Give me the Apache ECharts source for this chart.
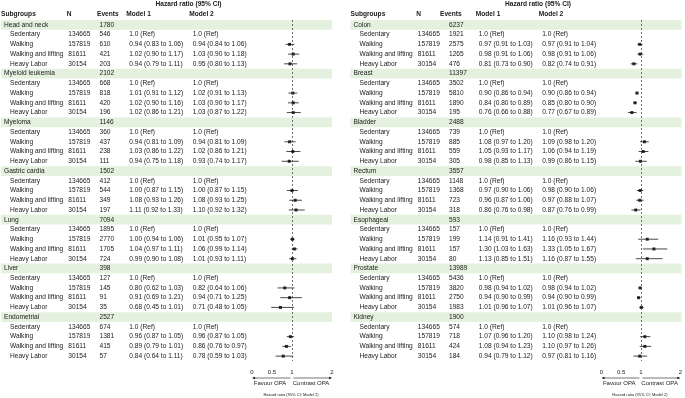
<!DOCTYPE html>
<html>
<head>
<meta charset="utf-8">
<script src="https://cdn.jsdelivr.net/npm/echarts@6/dist/echarts.min.js"></script>
<style>
  html, body { margin: 0; padding: 0; background: #fff; }
  #chart { width: 685px; height: 398px; }
</style>
</head>
<body>
<div id="chart"></div>
<script>
  // activity levels, shared by every cancer site
  const levels = ['Sedentary', 'Walking', 'Walking and lifting', 'Heavy Labor'];
  const levelN = [134665, 157819, 81611, 30154];

  // left panel
  const leftCancers = ['Head and neck', 'Myeloid leukemia', 'Myeloma', 'Gastric cardia', 'Lung', 'Liver', 'Endometrial'];
  const leftTotals = [1780, 2102, 1146, 1502, 7094, 398, 2527];
  const leftEvents = [
    [546, 610, 421, 203],
    [668, 818, 420, 196],
    [360, 437, 238, 111],
    [412, 544, 349, 197],
    [1895, 2770, 1705, 724],
    [127, 145, 91, 35],
    [674, 1381, 415, 57],
  ];
  // [hr, lower, upper] for Walking, Walking and lifting, Heavy Labor
  const leftModel1 = [
    [[0.94, 0.83, 1.06], [1.02, 0.90, 1.17], [0.94, 0.79, 1.11]],
    [[1.01, 0.91, 1.12], [1.02, 0.90, 1.16], [1.02, 0.86, 1.21]],
    [[0.94, 0.81, 1.09], [1.03, 0.86, 1.22], [0.94, 0.75, 1.18]],
    [[1.00, 0.87, 1.15], [1.08, 0.93, 1.26], [1.11, 0.92, 1.33]],
    [[1.00, 0.94, 1.06], [1.04, 0.97, 1.11], [0.99, 0.90, 1.08]],
    [[0.80, 0.62, 1.03], [0.91, 0.69, 1.21], [0.68, 0.45, 1.01]],
    [[0.96, 0.87, 1.05], [0.89, 0.79, 1.01], [0.84, 0.64, 1.11]],
  ];
  const leftModel2 = [
    [[0.94, 0.84, 1.06], [1.03, 0.90, 1.18], [0.95, 0.80, 1.13]],
    [[1.02, 0.91, 1.13], [1.03, 0.90, 1.17], [1.03, 0.87, 1.22]],
    [[0.94, 0.81, 1.09], [1.02, 0.86, 1.21], [0.93, 0.74, 1.17]],
    [[1.00, 0.87, 1.15], [1.08, 0.93, 1.25], [1.10, 0.92, 1.32]],
    [[1.01, 0.95, 1.07], [1.06, 0.99, 1.14], [1.01, 0.93, 1.11]],
    [[0.82, 0.64, 1.06], [0.94, 0.71, 1.25], [0.71, 0.48, 1.05]],
    [[0.96, 0.87, 1.05], [0.86, 0.76, 0.97], [0.78, 0.59, 1.03]],
  ];

  // right panel
  const rightCancers = ['Colon', 'Breast', 'Bladder', 'Rectum', 'Esophageal', 'Prostate', 'Kidney'];
  const rightTotals = [6237, 11397, 2488, 3557, 593, 13989, 1900];
  const rightEvents = [
    [1921, 2575, 1265, 476],
    [3502, 5810, 1890, 195],
    [739, 885, 559, 305],
    [1148, 1368, 723, 318],
    [157, 199, 157, 80],
    [5436, 3820, 2750, 1983],
    [574, 718, 424, 184],
  ];
  const rightModel1 = [
    [[0.97, 0.91, 1.03], [0.98, 0.91, 1.06], [0.81, 0.73, 0.90]],
    [[0.90, 0.86, 0.94], [0.84, 0.80, 0.89], [0.76, 0.66, 0.88]],
    [[1.08, 0.97, 1.20], [1.05, 0.93, 1.17], [0.98, 0.85, 1.13]],
    [[0.97, 0.90, 1.06], [0.96, 0.87, 1.06], [0.86, 0.76, 0.98]],
    [[1.14, 0.91, 1.41], [1.30, 1.03, 1.63], [1.13, 0.85, 1.51]],
    [[0.98, 0.94, 1.02], [0.94, 0.90, 0.99], [1.01, 0.96, 1.07]],
    [[1.07, 0.96, 1.20], [1.08, 0.94, 1.23], [0.94, 0.79, 1.12]],
  ];
  const rightModel2 = [
    [[0.97, 0.91, 1.04], [0.98, 0.91, 1.06], [0.82, 0.74, 0.91]],
    [[0.90, 0.86, 0.94], [0.85, 0.80, 0.90], [0.77, 0.67, 0.89]],
    [[1.09, 0.98, 1.20], [1.06, 0.94, 1.19], [0.99, 0.86, 1.15]],
    [[0.98, 0.90, 1.06], [0.97, 0.88, 1.07], [0.87, 0.76, 0.99]],
    [[1.16, 0.93, 1.44], [1.33, 1.05, 1.67], [1.16, 0.87, 1.55]],
    [[0.98, 0.94, 1.02], [0.94, 0.90, 0.99], [1.01, 0.96, 1.07]],
    [[1.10, 0.98, 1.24], [1.10, 0.97, 1.26], [0.97, 0.81, 1.16]],
  ];

  const axisTicks = [0, 0.5, 1, 2];

  const FONT = "'Liberation Sans', Arial, sans-serif";
  const INK = '#1a1a1a';
  const BAND = '#e4f1df';
  const FS = 6.6;

  function fmt(v) {
    return v ? v[0].toFixed(2) + ' (' + v[1].toFixed(2) + ' to ' + v[2].toFixed(2) + ')' : '1.0 (Ref)';
  }

  function buildRows(cancers, totals, events, m1, m2) {
    const rows = [];
    cancers.forEach((c, i) => {
      rows.push({ group: true, name: c, events: totals[i] });
      levels.forEach((lv, j) => {
        rows.push({
          group: false, name: lv, n: levelN[j], events: events[i][j],
          m1: j === 0 ? null : m1[i][j - 1],
          m2: j === 0 ? null : m2[i][j - 1],
        });
      });
    });
    return rows;
  }

  const panels = [
    { origin: 0, eventsHead: 97, rows: buildRows(leftCancers, leftTotals, leftEvents, leftModel1, leftModel2) },
    { origin: 349.5, eventsHead: 90.5, rows: buildRows(rightCancers, rightTotals, rightEvents, rightModel1, rightModel2) },
  ];

  function txt(x, y, s, extra) {
    return {
      type: 'text',
      style: Object.assign({ x: x, y: y, text: s, fill: INK, font: FS + 'px ' + FONT, verticalAlign: 'middle', align: 'left' }, extra || {}),
    };
  }

  const grid = [], xAxis = [], yAxis = [], series = [];

  panels.forEach((p, k) => {
    const rows = p.rows;
    const cats = rows.map((r, i) => String(i));
    const tIdx = k * 2, fIdx = k * 2 + 1;
    const o = p.origin;

    grid.push({ left: o, top: 20, width: 332, height: 341 });
    grid.push({ left: o + 252, top: 20, width: 80, height: 341 });

    xAxis.push({ gridIndex: tIdx, type: 'value', min: 0, max: 1, show: false });
    xAxis.push({
      gridIndex: fIdx, type: 'value', min: 0, max: 2, offset: 6,
      axisLine: { lineStyle: { color: INK, width: 0.8 } },
      axisTick: { inside: true, length: 3, customValues: axisTicks, lineStyle: { color: INK, width: 0.8 } },
      axisLabel: { customValues: axisTicks, fontSize: 6, fontFamily: FONT, color: INK, margin: 2 },
      splitLine: { show: false },
    });
    yAxis.push({ gridIndex: tIdx, type: 'category', data: cats, inverse: true, show: false });
    yAxis.push({ gridIndex: fIdx, type: 'category', data: cats, inverse: true, show: false });

    // table text and group bands
    series.push({
      type: 'custom', xAxisIndex: tIdx, yAxisIndex: tIdx, z: 1, silent: true,
      data: rows.map((r, i) => [0, i]),
      renderItem: (params, api) => {
        const i = api.value(1);
        const r = rows[i];
        const y = api.coord([0, i])[1];
        const h = api.size([0, 1])[1];
        const ch = [];
        if (r.group) {
          ch.push({ type: 'rect', shape: { x: o + 1, y: y - h / 2, width: 331, height: h }, style: { fill: BAND } });
          ch.push(txt(o + 4, y, r.name));
          ch.push(txt(o + 99.5, y, String(r.events)));
        } else {
          ch.push(txt(o + 10, y, r.name));
          ch.push(txt(o + 68.3, y, String(r.n)));
          ch.push(txt(o + 99.5, y, String(r.events)));
          ch.push(txt(o + 129.3, y, fmt(r.m1)));
          ch.push(txt(o + 192.7, y, fmt(r.m2)));
        }
        return { type: 'group', children: ch };
      },
    });

    // Model 2 estimates
    const pts = [];
    rows.forEach((r, i) => { if (r.m2) pts.push([r.m2[0], r.m2[1], r.m2[2], i]); });

    series.push({
      type: 'custom', xAxisIndex: fIdx, yAxisIndex: fIdx, z: 3, silent: true,
      data: pts,
      encode: { x: [0, 1, 2], y: 3 },
      renderItem: (params, api) => {
        const row = api.value(3);
        const a = api.coord([api.value(1), row]);
        const b = api.coord([api.value(2), row]);
        return { type: 'line', shape: { x1: a[0], y1: a[1], x2: b[0], y2: b[1] }, style: { stroke: INK, lineWidth: 0.8 } };
      },
    });
    series.push({
      type: 'scatter', xAxisIndex: fIdx, yAxisIndex: fIdx, z: 4, silent: true,
      symbol: 'rect', symbolSize: 3,
      itemStyle: { color: '#000' },
      data: pts.map(d => [d[0], d[3]]),
      markLine: {
        silent: true, symbol: 'none', label: { show: false },
        lineStyle: { type: [2, 2], color: '#333', width: 0.7 },
        data: [{ xAxis: 1 }],
      },
    });
  });

  const chart = echarts.init(document.getElementById('chart'));
  chart.setOption({ animation: false, grid, xAxis, yAxis, series });

  // headers and the favour / contrast arrows under each forest axis
  const graphic = [];
  panels.forEach((p, k) => {
    const o = p.origin;
    const bold = { font: 'bold ' + FS + 'px ' + FONT };
    graphic.push(txt(o + 188.5, 4.5, 'Hazard ratio (95% CI)', Object.assign({ align: 'center' }, bold)));
    graphic.push(txt(o + 1, 14.5, 'Subgroups', bold));
    graphic.push(txt(o + 66.7, 14.5, 'N', bold));
    graphic.push(txt(o + p.eventsHead, 14.5, 'Events', bold));
    graphic.push(txt(o + 126.3, 14.5, 'Model 1', bold));
    graphic.push(txt(o + 189.2, 14.5, 'Model 2', bold));

    const fIdx = k * 2 + 1;
    const x0 = chart.convertToPixel({ xAxisIndex: fIdx }, 0);
    const x1 = chart.convertToPixel({ xAxisIndex: fIdx }, 1);
    const x2 = chart.convertToPixel({ xAxisIndex: fIdx }, 2);
    const ay = 378;
    const ls = { stroke: INK, lineWidth: 0.6 };
    graphic.push({ type: 'line', shape: { x1: x1 - 1.5, y1: ay, x2: x0 + 1, y2: ay }, style: ls });
    graphic.push({ type: 'polygon', shape: { points: [[x0, ay], [x0 + 3, ay - 1.2], [x0 + 3, ay + 1.2]] }, style: { fill: INK } });
    graphic.push({ type: 'line', shape: { x1: x1 + 1.5, y1: ay, x2: x2 - 1, y2: ay }, style: ls });
    graphic.push({ type: 'polygon', shape: { points: [[x2, ay], [x2 - 3, ay - 1.2], [x2 - 3, ay + 1.2]] }, style: { fill: INK } });
    graphic.push(txt((x0 + x1) / 2 - 2, 383.5, 'Favour OPA', { align: 'center', font: '6px ' + FONT }));
    graphic.push(txt((x1 + x2) / 2 - 1, 383.5, 'Contrast OPA', { align: 'center', font: '6px ' + FONT }));
    graphic.push(txt(x1 - 1, 395, 'Hazard ratio (95% CI; Model 2)', { align: 'center', font: '4px ' + FONT }));
  });
  chart.setOption({ graphic });
</script>
</body>
</html>
